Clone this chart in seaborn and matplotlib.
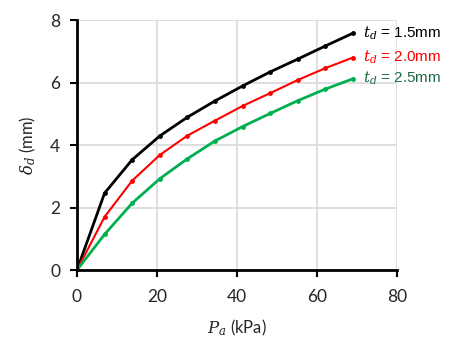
import matplotlib
matplotlib.use("Agg")
import matplotlib.pyplot as plt
import seaborn as sns
import pandas as pd

# Applied pressure (kPa) and deflection (mm) for three thicknesses
pressure = [0, 6.9, 13.8, 20.7, 27.6, 34.5, 41.4, 48.3, 55.2, 62.1, 69.0]
defl_15 = [0, 2.46, 3.53, 4.29, 4.89, 5.41, 5.89, 6.34, 6.75, 7.17, 7.58]
defl_20 = [0, 1.70, 2.86, 3.68, 4.30, 4.78, 5.25, 5.66, 6.08, 6.46, 6.80]
defl_25 = [0, 1.14, 2.14, 2.92, 3.56, 4.13, 4.59, 5.01, 5.42, 5.79, 6.12]

labels = ["1.5mm", "2.0mm", "2.5mm"]
line_colors = ["#000000", "#ff0000", "#00b050"]
text_colors = ["#000000", "#ff0000", "#1f6b45"]
widths = [2.0, 1.5, 2.0]

sns.set_theme(style="whitegrid")
plt.rcParams["font.family"] = ["Lato", "DejaVu Sans"]
plt.rcParams["mathtext.fontset"] = "dejavuserif"

fig = plt.figure(figsize=(4.74, 3.48), dpi=100)
ax = fig.add_axes([0.1624, 0.2241, 0.6752, 0.7184])

series = [defl_15, defl_20, defl_25]
for vals, lab, c, tc, lw in zip(series, labels, line_colors, text_colors, widths):
    df = pd.DataFrame({"P": pressure, "d": vals})
    sns.lineplot(data=df, x="P", y="d", ax=ax, color=c, lw=lw,
                 marker="o", markersize=3.5, markeredgewidth=0)
    ax.text(pressure[-1] + 2.5, vals[-1], r"$t_d$ = " + lab, color=tc,
            fontsize=11, va="center", ha="left",
            family=["Liberation Sans", "DejaVu Sans"])

ax.set_xlim(0, 80)
ax.set_ylim(0, 8)
ax.set_xticks([0, 20, 40, 60, 80])
ax.set_yticks([0, 2, 4, 6, 8])
ax.grid(True, color="#d9d9d9", lw=1.2)
ax.set_axisbelow(True)
for s in ["top", "right"]:
    ax.spines[s].set_visible(False)
for s in ["left", "bottom"]:
    ax.spines[s].set_color("black")
    ax.spines[s].set_linewidth(2)
ax.tick_params(axis="both", which="major", length=5, width=1.5, color="black",
               direction="out", labelsize=12.5, bottom=True, left=True)
ax.tick_params(axis="x", pad=9)
ax.tick_params(axis="y", pad=7)
ax.set_xlabel(r"$P_a$ (kPa)", fontsize=12, labelpad=9)
ax.set_ylabel(r"$\delta_d$ (mm)", fontsize=12, labelpad=9)

fig.savefig("out.png", dpi=100)
